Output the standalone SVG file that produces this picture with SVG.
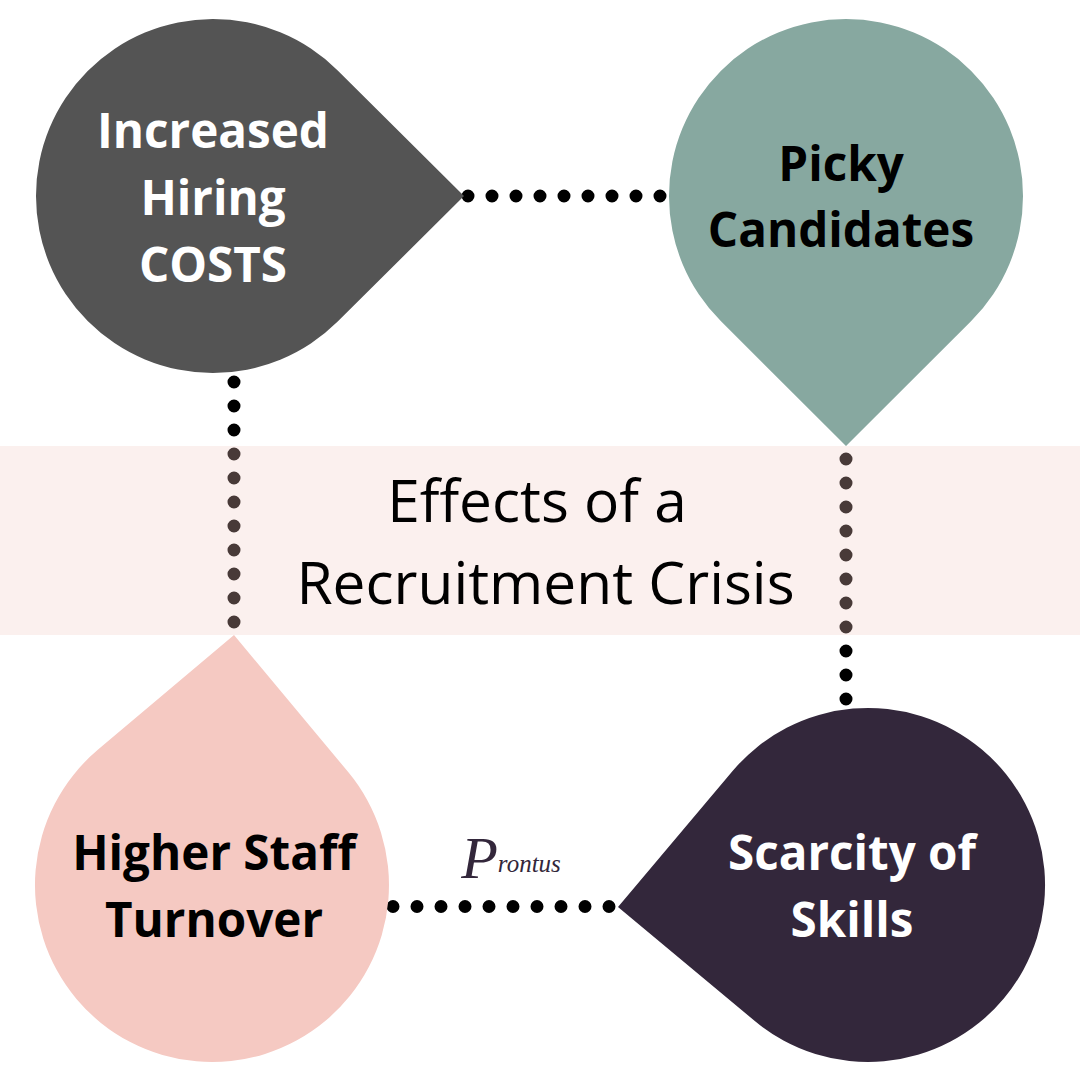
<svg xmlns="http://www.w3.org/2000/svg" width="1080" height="1080" viewBox="0 0 1080 1080">
<defs>
<style>
.t{font-family:"Open Sans","Noto Sans",sans-serif;text-anchor:middle}
.b{font-weight:700;font-size:47.6px}
.w{fill:#fff}.k{fill:#000}
.d{fill:none;stroke-width:13;stroke-linecap:round;stroke-dasharray:0 24}
</style>
</defs>
<rect width="1080" height="1080" fill="#fff"/>
<g id="band">
<rect x="0" y="446" width="1080" height="189" fill="#fbf0ee"/>
<text class="t" font-size="58.6" x="537" y="522" fill="#000">Effects of a</text>
<text class="t" font-size="58.6" x="545.500" y="604" fill="#000">Recruitment Crisis</text>
</g>
<g id="connectors">
<path class="d" stroke="#000" d="M468 196H660.5"/>
<path class="d" stroke="#000" d="M234 382V430.5"/>
<path class="d" stroke="#483a38" d="M234 454V622.5"/>
<path class="d" stroke="#483a38" d="M846 459V627.5"/>
<path class="d" stroke="#000" d="M846 651V699.5"/>
<path class="d" stroke="#000" d="M393 906.500H609.500"/>
</g>
<g id="node-hiring">
<path fill="#545454" d="M464 196L337.700 70.400A177 177 0 1 0 337.700 321.600Z"/>
<text class="t b w" x="213" y="148">Increased</text>
<text class="t b w" x="213" y="215">Hiring</text>
<text class="t b w" x="213" y="282">COSTS</text>
</g>
<g id="node-picky">
<path fill="#87a8a0" d="M846 446L721 321.300A177 177 0 1 1 971 321.300Z"/>
<text class="t b k" x="841" y="181">Picky</text>
<text class="t b k" x="841" y="247">Candidates</text>
</g>
<g id="node-turnover">
<path fill="#f5c9c2" d="M234 635L97.800 749.800A177 177 0 1 0 348 771.800Z"/>
<text class="t b k" x="214" y="870">Higher Staff</text>
<text class="t b k" x="214" y="937">Turnover</text>
</g>
<g id="node-scarcity">
<path fill="#33273b" d="M618 907L732.800 770.800A177 177 0 1 1 754.800 1021Z"/>
<text class="t b w" x="852" y="870">Scarcity of</text>
<text class="t b w" x="852" y="937">Skills</text>
</g>
<g id="signature">
<text x="511" y="878" font-family="'Liberation Serif',serif" font-style="italic" font-size="60" fill="#33273b" text-anchor="middle">P<tspan font-size="25" dy="-6">rontus</tspan></text>
</g>
</svg>
